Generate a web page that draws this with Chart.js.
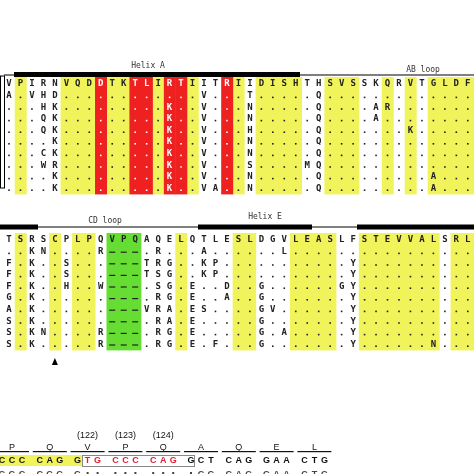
<!DOCTYPE html>
<html>
<head>
<meta charset="utf-8">
<script src="https://cdn.jsdelivr.net/npm/chart.js@4"></script>
<style>
  html, body { margin: 0; padding: 0; background: #fff; }
  #wrap { width: 474px; height: 474px; }
</style>
</head>
<body>
<div id="wrap"><canvas id="c" width="474" height="474"></canvas></div>
<script>
// alignment block 1 (Helix A / AB loop)
const block1Rows = [
  'VPIRNVQDDTKTLIRTIITRIIDISHTHSVSSKQRVTGLDF',
  'A.VHD............V...T.....Q.............',
  '...HK.........K..V...N.....Q....AR.......',
  '...QK.........K..V...N.....Q....A........',
  '...QK.........K..V...H.....Q.......K.....',
  '....K.........K..V...N.....Q.............',
  '...CK.........K..V...N.....Q.............',
  '...WR.........K..V...S....MQ.............',
  '....K.........K..V...N.....Q.........A...',
  '....K.........K..VA..N.....Q.........A...'
];
const block1Yellow = [1, 5, 6, 7, 9, 10, 13, 16, 20, 22, 23, 24, 25, 28, 29, 30, 33, 35, 37, 38, 39, 40];
const block1Red = [8, 11, 12, 14, 15, 19];

// alignment block 2 (CD loop / Helix E)
const block2Rows = [
  'TSRSCPLPQVPQAQELQTLESLDGVLEASLFSTEVVALSRL',
  '..KN....R---.R...A......L................',
  'F.K..S...---TRG..KP...........Y..........',
  'F.K..S...---TSG..KP...........Y..........',
  'F.K..H..W---.SG.E..D..G......GY..........',
  'G.K......---.RG.E..A..G.......Y..........',
  'A.K......---VRA.ES....GV......Y..........',
  'S.K......---.RA.E.....G.......Y..........',
  'S.KN....R---.RG.E.....G.A.....Y..........',
  'S.K.....R---.RG.E.F...G.......Y......N...'
];
const block2Yellow = [1, 4, 6, 7, 15, 20, 21, 25, 26, 27, 28, 31, 32, 33, 34, 35, 36, 37, 39, 40];
const block2Green = [9, 10, 11];

// codon panel
const codonAA = ['P', 'Q', 'V', 'P', 'Q', 'A', 'Q', 'E', 'L'];
const codonNum = ['', '', '(122)', '(123)', '(124)', '', '', '', ''];
const codonTop = ['CCC', 'CAG', 'GTG', 'CCC', 'CAG', 'GCT', 'CAG', 'GAA', 'CTG'];
const codonLow = ['GGC', 'CGG', 'G..', '...', '...', '.CG', 'CAG', 'GAA', 'CTG'];

const YELLOW = '#f0f35a', RED = '#ee2020', GREEN = '#66dd33';
const ROW1_Y = 84, ROW2_Y = 240, ROW_STEP = 11.6;

const alignPlugin = {
  id: 'align',
  afterDraw(chart) {
    const ctx = chart.ctx, sx = chart.scales.x, sy = chart.scales.y;
    const px = c => sx.getPixelForValue(c);
    const py = v => sy.getPixelForValue(v);
    const cw = px(1) - px(0);

    function block(rows, top, cols) {
      const y0 = py(top) - 7, y1 = py(top + ROW_STEP * (rows.length - 1)) + 6;
      cols.forEach(([list, col]) => {
        ctx.fillStyle = col;
        list.forEach(c => ctx.fillRect(px(c) - cw / 2, y0, cw + 0.5, y1 - y0));
      });
    }
    function letters(rows, top, whiteCols) {
      ctx.font = 'bold 9px "DejaVu Sans Mono"';
      ctx.textAlign = 'center';
      ctx.textBaseline = 'middle';
      rows.forEach((r, i) => {
        [...r].forEach((ch, c) => {
          ctx.fillStyle = whiteCols.includes(c) ? '#fff' : '#222';
          const y = py(top + ROW_STEP * i);
          if (ch === '.') ctx.fillRect(px(c) - 0.8, y + 1, 1.6, 1.6);
          else if (ch === '-') ctx.fillRect(px(c) - 3, y, 6, 1.2);
          else ctx.fillText(ch, px(c), y);
        });
      });
    }
    function bar(x0, x1, y, thick) {
      ctx.fillStyle = '#000';
      ctx.fillRect(x0, y - thick / 2, x1 - x0, thick);
    }

    ctx.save();
    // block 1
    block(block1Rows, ROW1_Y, [[block1Yellow, YELLOW], [block1Red, RED]]);
    letters(block1Rows, ROW1_Y, block1Red);
    bar(4, 474, 75, 1);
    bar(14, 300, 74.5, 5);
    ctx.strokeStyle = '#000';
    ctx.strokeRect(0.5, 76, 4, 112);
    ctx.font = '8px "DejaVu Sans Mono"';
    ctx.fillStyle = '#333';
    ctx.textAlign = 'center';
    ctx.fillText('Helix A', 148, 66);
    ctx.fillText('AB loop', 423, 70);

    // block 2
    block(block2Rows, ROW2_Y, [[block2Yellow, YELLOW], [block2Green, GREEN]]);
    letters(block2Rows, ROW2_Y, []);
    bar(0, 474, 227, 1);
    bar(0, 38, 227, 5);
    bar(198, 312, 227, 5);
    bar(357, 474, 227, 5);
    ctx.font = '8px "DejaVu Sans Mono"';
    ctx.fillStyle = '#333';
    ctx.fillText('CD loop', 105, 221);
    ctx.fillText('Helix E', 265, 217);
    ctx.fillStyle = '#000';
    ctx.beginPath();
    const tx = px(4);
    ctx.moveTo(tx - 3, 365); ctx.lineTo(tx + 3, 365); ctx.lineTo(tx, 358); ctx.fill();

    // codon panel
    const cx0 = 12, cstep = 37.8;
    ctx.font = '9px "Liberation Sans"';
    codonAA.forEach((aa, i) => {
      const x = cx0 + cstep * i;
      ctx.fillStyle = '#111';
      ctx.fillText(aa, x, 448);
      if (codonNum[i]) ctx.fillText(codonNum[i], x, 436);
      ctx.fillRect(x - 17, 451, 34, 1.2);
    });
    ctx.fillStyle = YELLOW;
    ctx.fillRect(0, 455, 82, 11);
    ctx.strokeStyle = '#888';
    ctx.strokeRect(82.5, 455.5, 112, 11);
    ctx.font = 'bold 9px "Liberation Sans"';
    codonTop.forEach((cod, i) => {
      [...cod].forEach((ch, k) => {
        const x = cx0 + cstep * i + (k - 1) * 10;
        const red = (i === 2 && k > 0) || i === 3 || i === 4;
        ctx.fillStyle = red ? '#dd2233' : '#111';
        ctx.fillText(ch, x, 461);
        ctx.fillStyle = '#444';
        const lo = codonLow[i][k];
        if (lo === '.') ctx.fillRect(x - 1, 472, 2, 2);
        else ctx.fillText(lo, x, 475);
      });
    });
    ctx.restore();
  }
};

new Chart(document.getElementById('c'), {
  type: 'scatter',
  data: { datasets: [{ data: [], pointRadius: 0 }] },
  options: {
    responsive: false,
    animation: false,
    layout: { padding: 0 },
    plugins: { legend: { display: false }, tooltip: { enabled: false } },
    scales: {
      x: { display: false, min: -0.785, max: -0.785 + 474 / 11.47 },
      y: { display: false, min: 0, max: 474, reverse: true }
    }
  },
  plugins: [alignPlugin]
});
</script>
</body>
</html>
